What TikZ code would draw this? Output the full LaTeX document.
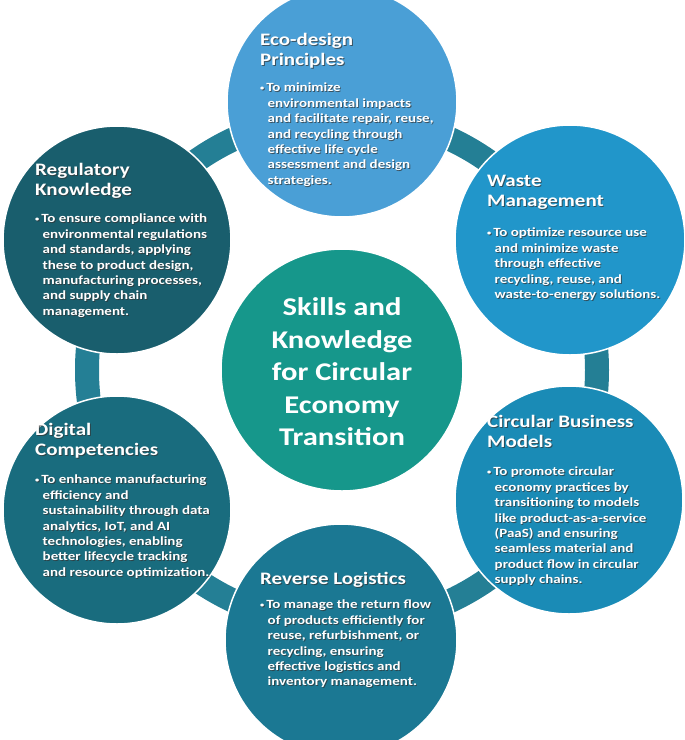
\documentclass[tikz,border=0pt]{standalone}
\usepackage{fontspec}
\setmainfont{Carlito}[FakeStretch=1.2]
\begin{document}
\begin{tikzpicture}[x=1pt,y=-1pt,
  sat/.style={circle,draw=white,line width=1.5pt,inner sep=0pt},
  ttl/.style={anchor=north west,text=white,font=\bfseries\fontsize{17.5}{20}\selectfont,align=left,inner sep=0pt},
  bod/.style={anchor=north west,text=white,font=\bfseries\fontsize{12.5}{15.4}\selectfont,align=left,inner sep=0pt},
  shd/.style={text=black!80,opacity=0.7}]
\useasboundingbox (0,0) rectangle (685,740);
\definecolor{cEco}{HTML}{4A9FD6}
\definecolor{cWaste}{HTML}{2196CA}
\definecolor{cCirc}{HTML}{1A8BB6}
\definecolor{cRev}{HTML}{1B7893}
\definecolor{cDig}{HTML}{196C7E}
\definecolor{cReg}{HTML}{195E6D}
\definecolor{cCen}{HTML}{16978B}
\definecolor{cRing}{HTML}{247F95}
\draw[cRing,line width=24pt] (342,370) circle (255);
\node[sat,fill=cCen,minimum size=242] (cen) at (342,370) {};
\node[text=white,font=\bfseries\fontsize{25.5}{32.5}\selectfont,align=center] (cent) at (342,372) {Skills and\\Knowledge\\for Circular\\Economy\\Transition};
\node[sat,fill=cEco,minimum size=230] (eco) at (342,102) {};
\node[sat,fill=cWaste,minimum size=230] (waste) at (570,240) {};
\node[sat,fill=cCirc,minimum size=228] (circ) at (569,500) {};
\node[sat,fill=cRev,minimum size=232] (rev) at (341,640) {};
\node[sat,fill=cDig,minimum size=228] (dig) at (117,510) {};
\node[sat,fill=cReg,minimum size=228] (reg) at (117,240) {};
\newcommand\tx[5]{%
  \node[#1,shd] (#2s) at (#3+0.9,#4+0.9) {#5};
  \node[#1] (#2) at (#3,#4) {#5};}
\newcommand\ii{\\\hspace*{0.6em}}
\newcommand\bu{\raisebox{0.25ex}{\fontsize{7}{7}\selectfont•}\hspace{0.15em}}
\tx{ttl}{t1}{260}{33}{Eco-design\\Principles}
\tx{bod}{b1}{260}{83}{\bu To minimize\ii environmental impacts\ii and facilitate repair, reuse,\ii and recycling through\ii effective life cycle\ii assessment and design\ii strategies.}
\tx{ttl}{t2}{487}{175}{Waste\\Management}
\tx{bod}{b2}{487}{228}{\bu To optimize resource use\ii and minimize waste\ii through effective\ii recycling, reuse, and\ii waste-to-energy solutions.}
\tx{ttl}{t3}{487}{415}{Circular Business\\Models}
\tx{bod}{b3}{487}{467}{\bu To promote circular\ii economy practices by\ii transitioning to models\ii like product-as-a-service\ii (PaaS) and ensuring\ii seamless material and\ii product flow in circular\ii supply chains.}
\tx{ttl}{t4}{260}{572}{Reverse Logistics}
\tx{bod}{b4}{260}{600}{\bu To manage the return flow\ii of products efficiently for\ii reuse, refurbishment, or\ii recycling, ensuring\ii effective logistics and\ii inventory management.}
\tx{ttl}{t5}{35}{423}{Digital\\Competencies}
\tx{bod}{b5}{35}{475}{\bu To enhance manufacturing\ii efficiency and\ii sustainability through data\ii analytics, IoT, and AI\ii technologies, enabling\ii better lifecycle tracking\ii and resource optimization.}
\tx{ttl}{t6}{35}{163}{Regulatory\\Knowledge}
\tx{bod}{b6}{35}{214}{\bu To ensure compliance with\ii environmental regulations\ii and standards, applying\ii these to product design,\ii manufacturing processes,\ii and supply chain\ii management.}
\end{tikzpicture}
\end{document}
